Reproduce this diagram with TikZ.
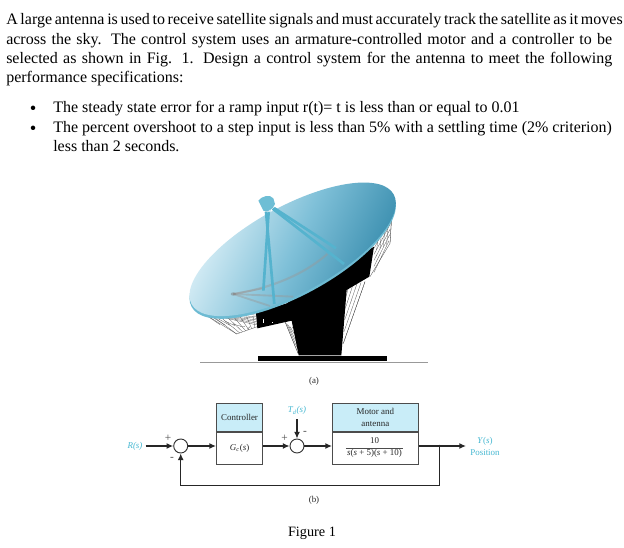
\documentclass[tikz,border=0pt]{standalone}
\usepackage{fontspec}
\setmainfont{Liberation Serif}
\usetikzlibrary{arrows.meta,positioning,calc}
\definecolor{capblue}{HTML}{C9EDF8}
\definecolor{labblue}{HTML}{45B8D2}
\definecolor{dishlight}{HTML}{E4F4FA}
\definecolor{dishmid}{HTML}{7FC0D8}
\definecolor{dishdark}{HTML}{2F86A8}
\definecolor{rimblue}{HTML}{6DBBD3}
\definecolor{strutblue}{HTML}{55B3CE}
\tikzset{
  txt/.style={inner sep=0pt,anchor=base west,font=\fontsize{12}{14}\selectfont},
  lab/.style={inner sep=0pt,font=\fontsize{6.7}{8}\selectfont,text=black!85},
  signlab/.style={inner sep=0pt,font=\fontsize{8.5}{9}\selectfont,text=black!70},
  bluelab/.style={lab,text=labblue},
  sumnode/.style={circle,draw=black!80,line width=0.7pt,minimum size=10.5pt,inner sep=0pt,fill=white},
  boxline/.style={draw=black!70,line width=0.7pt},
  wire/.style={draw=black!85,line width=1pt},
  arw/.style={wire,-{Latex[length=5pt,width=4.5pt]}},
  mesh/.style={draw=black!70,line width=0.2pt},
}
\newcommand{\fullline}[1]{\makebox[454.5pt][s]{#1}}
\begin{document}
\begin{tikzpicture}[x=0.75pt,y=-0.75pt]
\useasboundingbox (0,0) rectangle (624,548);
\fill[white] (0,0) rectangle (624,548);
% text
\node[txt] (l1) at (6,25) {\fullline{A large antenna is used to receive satellite signals and must accurately track the satellite as it moves}};
\node[txt] (l2) at (6,44.5) {\fullline{across the sky. The control system uses an armature-controlled motor and a controller to be}};
\node[txt] (l3) at (6,64) {\fullline{selected as shown in Fig. 1. Design a control system for the antenna to meet the following}};
\node[txt] (l4) at (6,83) {performance specifications:};
\node[txt,font=\fontsize{14}{14}\selectfont] (b1) at (29.5,114.5) {•};
\node[txt,font=\fontsize{14}{14}\selectfont] (b2) at (29.5,134.5) {•};
\node[txt] (l5) at (53,112.5) {The steady state error for a ramp input r(t)= t is less than or equal to 0.01};
\node[txt] (l6) at (53,132.5) {\makebox[419pt][s]{The percent overshoot to a step input is less than 5\% with a settling time (2\% criterion)}};
\node[txt] (l7) at (53,152) {less than 2 seconds.};
% antenna (coordinates in 3x crop units)
\begin{scope}[x=0.25pt,y=-0.25pt,shift={(127.5pt,-135pt)}]
  % lattice
  \fill[white] (100,400) -- (200,462) -- (262,440) -- (262,405) -- cycle;
  \foreach \i in {0,...,6}{
    \draw[mesh] ({100+22*\i},{400+8*\i}) -- ({150+15*\i},{434+1*\i});
    \draw[mesh] ({130+20*\i},{410-0*\i}) -- ({200+9*\i},{462-3.2*\i});
    \draw[mesh] (100,400) -- ({262},{405+5*\i});
  }
  \draw[mesh] (100,400) -- (200,462) -- (262,440);
  \foreach \i in {0,...,4}{
    \draw[mesh] ({665-2*\i},{110+18*\i}) -- ({612},{205+18*\i});
    \draw[mesh] ({660-10*\i},{190+5*\i}) -- ({665-10*\i},{110+14*\i});
    \draw[mesh] ({585-12*\i},{305+3*\i}) -- ({520+2*\i},{490-35*\i});
    \draw[mesh] ({345+5*\i},{425+5*\i}) -- ({385-4*\i},{522-20*\i});
  }
  \draw[mesh] (665,110) -- (660,190) -- (600,290);
  \draw[mesh] (585,305) -- (520,490);
  \draw[mesh] (345,425) -- (385,522);
  % mount
  \fill[black] (258,398) -- (262,445) -- (365,422) -- (386,526) -- (514,526) -- (530,330) -- (598,290) -- (612,200) -- (480,280) -- (350,370) -- cycle;
  \fill[white] (278,418) rectangle (283,430);
  \fill[white] (305,425) rectangle (310,430);
  % base and ground
  \fill[black] (264,527) rectangle (651,543);
  \draw[black!40,line width=0.9pt] (90,547) -- (773,547);
  % dish rim and dish
  \fill[rimblue,rotate around={28.5:(368,216)}] (368,216) ellipse (345 and 130);
  \begin{scope}
    \clip[rotate around={28.5:(368,208)}] (368,208) ellipse (345 and 130);
    \shade[left color=dishlight,right color=dishdark,middle color=dishmid,shading angle=65] (40,0) rectangle (700,420);
  \end{scope}
  % shadows of struts
  \draw[black!40,opacity=.45,line width=1.6pt] (190,342) .. controls (300,325) and (400,285) .. (472,222);
  \draw[black!40,opacity=.45,line width=1.4pt] (190,342) -- (300,378);
  \draw[black!40,opacity=.45,line width=1.4pt] (190,342) -- (370,350);
  \draw[black!40,opacity=.45,line width=1.2pt] (190,342) -- (280,325);
  \fill[black!50,opacity=.5] (190,342) ellipse (8 and 5);
  % struts
  \draw[strutblue,line width=2pt] (296,95) -- (280,332);
  \draw[strutblue,line width=2pt] (288,95) -- (313,372);
  \draw[strutblue,line width=2pt] (308,86) -- (522,252);
  \draw[strutblue,line width=2pt] (312,84) -- (498,205);
  % feed
  \fill[strutblue!85] (265,62) .. controls (275,48) and (300,42) .. (310,55) -- (315,72) .. controls (310,88) and (290,100) .. (280,92) -- cycle;
  \fill[white!70!strutblue] (300,93) circle (4);
\end{scope}
\node[lab] (capa) at (314,381) {(a)};
% block diagram
\node[bluelab,font=\fontsize{6.7}{8}\selectfont\itshape] (rin) at (135,446.5) {R(s)};
\node[sumnode] (s1) at (180.7,446) {};
\node[sumnode] (s2) at (297,446) {};
\node[boxline,minimum width=34.7pt,minimum height=21pt,inner sep=0pt,fill=capblue,anchor=north west] (ctop) at (216,402.7) {};
\node[boxline,minimum width=34.7pt,minimum height=24pt,inner sep=0pt,fill=white,anchor=north] (cbot) at (ctop.south) {};
\node[boxline,minimum width=64.3pt,minimum height=21pt,inner sep=0pt,fill=capblue,anchor=north west] (mtop) at (332,402.7) {};
\node[boxline,minimum width=64.3pt,minimum height=24pt,inner sep=0pt,fill=white,anchor=north] (mbot) at (mtop.south) {};
\node[lab] (ctext) at (ctop.center) {Controller};
\node[lab] (gtext) at (cbot.center) {\textit{G}\textsubscript{\textit{c}}(\textit{s})};
\node[lab,align=center] (mtext) at (mtop.center) {Motor and\\[1.2pt]antenna};
\node[lab] (num) at (374.5,440.5) {10};
\node[lab] (den) at (374.5,453.5) {\textit{s}(\textit{s} + 5)(\textit{s} + 10)};
\draw[black!70,line width=0.4pt] (den.north west) ++(-1,-1) -- ($(den.north east)+(1,-1)$);
\node[bluelab,font=\fontsize{6.7}{8}\selectfont\itshape] (td) at (297,410.7) {T\textsubscript{d}(s)};
\node[bluelab,align=center] (yout) at (485,446.5) {\textit{Y}(\textit{s})\\[1.5pt]Position};
\coordinate (junc) at (439.3,446);
\coordinate (lowr) at (439.3,485.7);
\coordinate (lowl) at (180.7,485.7);
\coordinate (tdst) at (297,419);
\coordinate (rst) at (145.7,446);
\coordinate (yend) at (466,446);
\draw[arw] (rst) -- (s1);
\draw[arw] (s1) -- (cbot.west |- s1);
\draw[arw] (cbot.east |- s2) -- (s2);
\draw[arw] (s2) -- (mbot.west |- s2);
\draw[arw] (mbot.east |- s2) -- (yend);
\draw[arw] (tdst) -- (s2);
\draw[arw] (junc) -- (lowr) -- (lowl) -- (s1);
\fill[black!85] (junc) circle (1.2);
\node[signlab] (p1) at (168,438) {+};
\node[signlab] (m1) at (172,459) {-};
\node[signlab] (p2) at (284.5,438) {+};
\node[signlab] (m2) at (305,433) {-};
\node[lab] (capb) at (314,500) {(b)};
\node[inner sep=0pt,font=\fontsize{10.7}{13}\selectfont] (figc) at (312,533) {Figure 1};
\end{tikzpicture}
\end{document}
